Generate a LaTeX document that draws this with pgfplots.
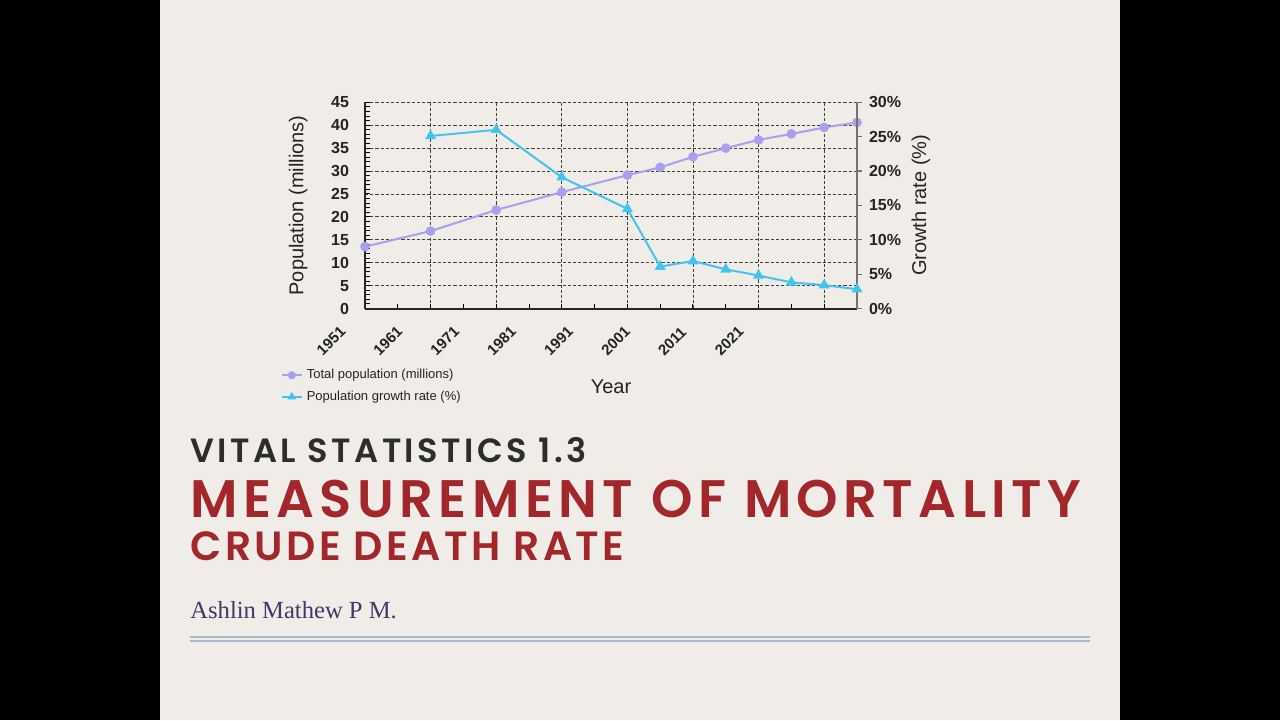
\documentclass[border=0pt]{standalone}
\usepackage{fontspec}
\setmainfont{Liberation Sans}
\IfFontExistsTF{Poppins SemiBold}{\newfontfamily\titlefont{Poppins SemiBold}\def\titleweight{}}{\newfontfamily\titlefont{Poppins}\def\titleweight{\bfseries}}
\newfontfamily\authorfont{Liberation Serif}
\usepackage{pgfplots}
\usepackage{pgfplotstable}
\pgfplotsset{compat=1.18}
\definecolor{slidebg}{RGB}{240,237,232}
\definecolor{popc}{RGB}{168,160,238}
\definecolor{growc}{RGB}{66,196,238}
\definecolor{txt}{RGB}{35,35,35}
\definecolor{titletxt}{RGB}{45,45,45}
\definecolor{titlered}{RGB}{163,38,43}
\definecolor{authorc}{RGB}{64,56,106}
\definecolor{rulec}{RGB}{168,183,203}

\pgfplotstableread{
year pop
1951 13.5
1961 16.9
1971 21.5
1981 25.4
1991 29.1
1996 30.8
2001 33.1
2006 35.0
2011 36.8
2016 38.1
2021 39.5
2026 40.6
}\popdata
\pgfplotstableread{
year rate
1961 25.1
1971 26.0
1981 19.1
1991 14.5
1996 6.1
2001 6.9
2006 5.7
2011 4.8
2016 3.8
2021 3.4
2026 2.8
}\ratedata

\begin{document}
\begin{tikzpicture}[x=0.5pt,y=0.5pt]
\path[use as bounding box] (0,0) rectangle (1280,720);
\fill[black] (0,0) rectangle (1280,720);
\fill[slidebg] (160,0) rectangle (1120,720);

\pgfplotsset{
  chartbase/.style={
    at={(182.5pt,205.75pt)}, anchor=south west,
    scale only axis, width=246pt, height=103.1pt,
    xmin=1951, xmax=2026,
    /pgf/number format/assume math mode=true,
    /pgf/number format/1000 sep={},
    tick label style={font=\fontsize{8}{9}\selectfont\bfseries, text=txt},
    label style={font=\fontsize{10}{12}\selectfont, text=txt},
  },
  popstyle/.style={color=popc, line width=1pt, mark=*, mark size=1.9pt, mark options={fill=popc, solid}},
  growstyle/.style={color=growc, line width=1pt, mark=triangle*, mark size=2.2pt, mark options={fill=growc, solid}},
}

\begin{axis}[chartbase,
  axis x line*=bottom, axis y line*=left,
  axis line style={line width=1pt, color=black!85},
  ymin=0, ymax=45, ytick={0,5,...,45},
  minor y tick num=4,
  xtick={1961,1971,...,2021},
  minor xtick={1956,1966,...,2026},
  xticklabels={},
  extra x ticks={1951,1959.67,1968.34,1977.0,1985.7,1994.4,2003.0,2011.7},
  extra x tick labels={1951,1961,1971,1981,1991,2001,2011,2021},
  extra x tick style={grid=none, major tick length=0pt,
     tick label style={xshift=-17pt, yshift=-16.25pt, rotate=45, anchor=center, font=\fontsize{7.5}{9}\selectfont\bfseries}},
  grid=major,
  major grid style={dash pattern=on 1.6pt off 1pt, line width=0.4pt, color=black!75},
  tick style={line width=0.5pt, color=black},
  major tick length=2.5pt, minor tick length=2.5pt,
  tick align=inside,
  yticklabel style={xshift=-4.5pt},
  ylabel={Population (millions)},
  ylabel style={at={(axis description cs:-0.136,0.5)}, anchor=center},
  xlabel={Year},
  xlabel style={at={(axis description cs:0.5,-0.381)}, anchor=center},
]
\addplot[popstyle] table[x=year,y=pop]{\popdata};
\end{axis}

\begin{axis}[chartbase,
  axis x line=none, axis y line*=right,
  axis line style={line width=0.8pt, color=black!55},
  ymin=0, ymax=30, ytick={0,5,...,30},
  yticklabel={\pgfmathprintnumber{\tick}\%},
  tick align=outside, major tick length=2.5pt,
  tick style={color=black!55, line width=0.6pt},
  yticklabel style={xshift=0pt},
  ylabel={Growth rate (\%)},
  ylabel style={at={(axis description cs:1.130,0.5)}, anchor=center},
  legend style={at={(axis description cs:-0.172,-0.272)}, anchor=north west,
     draw=none, fill=none, inner sep=0pt, row sep=0.6pt,
     font=\fontsize{6.5}{7.5}\selectfont, text=txt,
     nodes={inner sep=2pt}},
  legend cell align=left,
  legend image code/.code={\draw[mark repeat=2, mark phase=2, #1, mark size=1.5pt] plot coordinates {(0pt,0pt) (5pt,0pt) (10pt,0pt)};},
]
\addlegendimage{popstyle}
\addlegendentry{Total population (millions)}
\addplot[growstyle] table[x=year,y=rate]{\ratedata};
\addlegendentry{Population growth rate (\%)}
\end{axis}

\node[anchor=base west, inner sep=0, text=titletxt] at (190,258)
  {\titlefont\titleweight\addfontfeature{LetterSpace=10.3}\fontsize{16.8}{18}\selectfont VITAL STATISTICS 1.3};
\node[anchor=base west, inner sep=0, text=titlered] at (190,203)
  {\titlefont\titleweight\addfontfeature{LetterSpace=10.2}\fontsize{26.4}{28}\selectfont MEASUREMENT OF MORTALITY};
\node[anchor=base west, inner sep=0, text=titlered] at (190,159.5)
  {\titlefont\titleweight\addfontfeature{LetterSpace=8.3}\fontsize{20.4}{22}\selectfont CRUDE DEATH RATE};
\node[anchor=base west, inner sep=0, text=authorc] at (190,101.5)
  {\authorfont\fontsize{12.3}{14}\selectfont Ashlin Mathew P M.};
\draw[rulec, line width=1pt] (190,83.5) -- (1090,83.5);
\draw[rulec, line width=1pt] (190,79.5) -- (1090,79.5);
\end{tikzpicture}
\end{document}
